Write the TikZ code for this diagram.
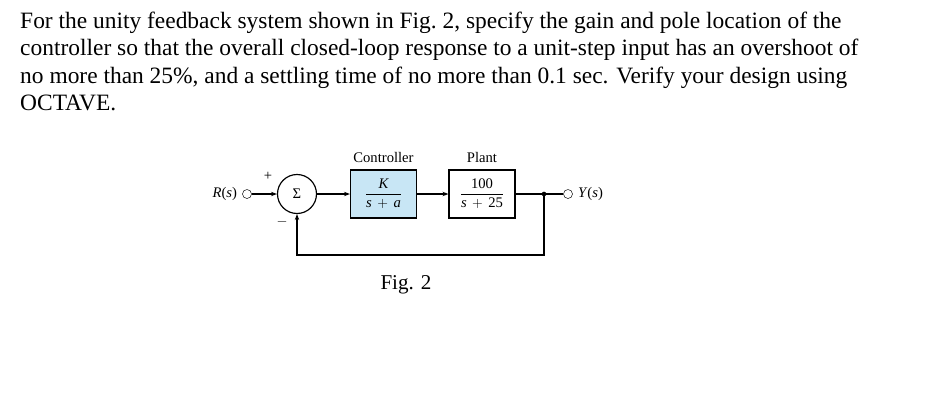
\documentclass[tikz,border=0pt]{standalone}
\usepackage{amsmath}
\usepackage{fontspec}
\setmainfont{Liberation Serif}
\usetikzlibrary{positioning,arrows.meta}
\definecolor{ctrlblue}{RGB}{200,230,245}
\tikzset{
  para/.style={anchor=base west,inner sep=0pt,font=\fontsize{20}{24}\selectfont},
  blk/.style={draw,line width=1pt,minimum width=1.98cm,minimum height=1.44cm,inner sep=1pt,font=\fontsize{12.5}{14}\selectfont},
  port/.style={draw,circle,inner sep=0pt,minimum size=0.27cm},
  lbl/.style={font=\fontsize{12.5}{14}\selectfont},
  sig/.style={line width=1pt,-{Stealth[length=5pt]}}
}
\begin{document}
\begin{tikzpicture}[x=0.03cm,y=-0.03cm]
  \useasboundingbox (0,0) rectangle (938,411);
  \node[para] (l1) at (20,28) {For the unity feedback system shown in Fig.~2, specify the gain and pole location of the};
  \node[para] (l2) at (20,55.5) {controller so that the overall closed-loop response to a unit-step input has an overshoot of};
  \node[para] (l3) at (20,83) {no more than 25\%, and a settling time of no more than 0.1 sec. Verify your design using};
  \node[para] (l4) at (20,110.5) {OCTAVE.};

  % block diagram
  \node[port] (rin) at (247,194) {};
  \node[lbl,left=1pt of rin] (rlbl) {\textit{R}(\textit{s})};
  \node[draw,line width=1pt,circle,minimum size=1.17cm,inner sep=0pt,lbl] (sum) at (297,194) {Σ};
  \node[blk,fill=ctrlblue] (ctrl) at (383.5,194) {$\dfrac{\textit{K}}{\textit{s}\,+\,\textit{a}}$};
  \node[blk] (plant) at (482,194) {$\dfrac{\text{100}}{\textit{s}\,+\,\text{25}}$};
  \node[lbl,above=2pt of ctrl] (ctrltxt) {Controller};
  \node[lbl,above=2pt of plant] (planttxt) {Plant};
  \coordinate (tap) at (544,194);
  \node[port] (yout) at (568,194) {};
  \node[lbl,right=1pt of yout] (ylbl) {\textit{Y}(\textit{s})};
  \coordinate (fb) at (297,255);
  \node[lbl] (plus) at (268,176) {+};
  \node[lbl] (minus) at (282,222) {$-$};

  \draw[sig] (rin) -- (sum);
  \draw[sig] (sum) -- (ctrl);
  \draw[sig] (ctrl) -- (plant);
  \draw[line width=1pt] (plant) -- (tap) -- (yout);
  \fill (tap) circle (2pt);
  \draw[sig] (tap) |- (fb) -- (sum);

  \node[font=\fontsize{18}{20}\selectfont] (fig) at (406,285) {Fig. 2};
\end{tikzpicture}
\end{document}
